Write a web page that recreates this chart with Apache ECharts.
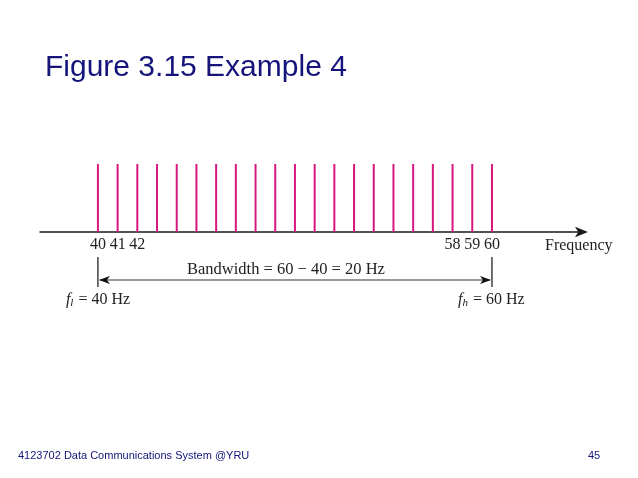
<!DOCTYPE html>
<html>
<head>
<meta charset="utf-8">
<script src="https://cdn.jsdelivr.net/npm/echarts@6/dist/echarts.min.js"></script>
<style>html,body{margin:0;padding:0;background:#fff;}#c{width:638px;height:478px;}</style>
</head>
<body>
<div id="c"></div>
<script>
// ---- data ----
const FREQS = [40,41,42,43,44,45,46,47,48,49,50,51,52,53,54,55,56,57,58,59,60];
const TICK_LABELS = [40,41,42,58,59,60];
const F_LOW = 40;
const F_HIGH = 60;
const BW_LABEL = 'Bandwidth = 60 \u2212 40 = 20 Hz';
const AXIS_NAME = 'Frequency';
const TITLE = 'Figure 3.15 Example 4';
const FOOTER_LEFT = '4123702 Data Communications System @YRU';
const FOOTER_RIGHT = '45';

// ---- layout ----
const X_MIN = 37.06, X_MAX = 64.57;
const SERIF = '"Liberation Serif", "DejaVu Serif", serif';
const NAVY = '#14147a';
const MAGENTA = '#d6177f';

const chart = echarts.init(document.getElementById('c'), null, {renderer:'canvas'});
chart.setOption({
  animation:false,
  backgroundColor:'#fff',
  grid:{left:40, width:542, top:164, height:68},
  xAxis:{
    type:'value', min:X_MIN, max:X_MAX,
    axisLine:{show:true, symbol:['none','arrow'], symbolSize:[8,13], symbolOffset:[0,6],
      lineStyle:{color:'#1a1a1a', width:1.5}},
    axisTick:{show:false},
    splitLine:{show:false},
    axisLabel:{show:true, customValues:TICK_LABELS, margin:5,
      fontFamily:SERIF, fontSize:16, color:'#222'},
    name:AXIS_NAME, nameLocation:'end', nameGap:-37,
    nameTextStyle:{fontFamily:SERIF, fontSize:16, color:'#222', padding:[6,0,0,0], align:'left', verticalAlign:'top'}
  },
  yAxis:{type:'value', min:0, max:1, show:false},
  graphic:[
    {type:'text', left:45, top:53, style:{text:TITLE, font:'30px "Liberation Sans", Arial, sans-serif', fill:NAVY}},
    {type:'text', left:18, top:450, style:{text:FOOTER_LEFT, font:'11px "Liberation Sans", Arial, sans-serif', fill:NAVY}},
    {type:'text', left:588, top:450, style:{text:FOOTER_RIGHT, font:'11px "Liberation Sans", Arial, sans-serif', fill:NAVY}}
  ],
  series:[
    {
      type:'custom', clip:false,
      data:FREQS.map(f=>[f]),
      renderItem:function(params, api){
        const p0 = api.coord([api.value(0), 0]);
        const p1 = api.coord([api.value(0), 1]);
        return {type:'line', shape:{x1:p0[0], y1:p0[1], x2:p1[0], y2:p1[1]},
          style:{stroke:MAGENTA, lineWidth:2}};
      }
    },
    {
      type:'custom', clip:false,
      data:[[F_LOW, F_HIGH]],
      renderItem:function(params, api){
        const a = api.coord([api.value(0), 0]);
        const b = api.coord([api.value(1), 0]);
        const y0 = a[1];
        const yl = y0 + 48;
        const ax = a[0], bx = b[0];
        const rich = {
          i:{fontFamily:SERIF, fontStyle:'italic', fontSize:16, fill:'#222'},
          s:{fontFamily:SERIF, fontStyle:'italic', fontSize:11, fill:'#222', verticalAlign:'bottom', padding:[6,1,0,0]},
          n:{fontFamily:SERIF, fontSize:16, fill:'#222'}
        };
        return {type:'group', children:[
          {type:'line', shape:{x1:ax, y1:y0+25, x2:ax, y2:y0+55}, style:{stroke:'#222', lineWidth:1.3}},
          {type:'line', shape:{x1:bx, y1:y0+25, x2:bx, y2:y0+55}, style:{stroke:'#222', lineWidth:1.3}},
          {type:'line', shape:{x1:ax+2, y1:yl, x2:bx-2, y2:yl}, style:{stroke:'#333', lineWidth:1.2}},
          {type:'polygon', shape:{points:[[ax+1,yl],[ax+12,yl-4],[ax+9,yl],[ax+12,yl+4]]}, style:{fill:'#111'}},
          {type:'polygon', shape:{points:[[bx-1,yl],[bx-12,yl-4],[bx-9,yl],[bx-12,yl+4]]}, style:{fill:'#111'}},
          {type:'text', x:(ax+bx)/2 - 9, y:yl-10, style:{text:BW_LABEL, align:'center', verticalAlign:'middle',
            font:'16.5px ' + SERIF, fill:'#222'}},
          {type:'text', x:ax-32, y:yl+20, style:{text:'{i|f}{s|l}{n| = ' + api.value(0) + ' Hz}', rich:rich,
            align:'left', verticalAlign:'middle'}},
          {type:'text', x:bx-34, y:yl+20, style:{text:'{i|f}{s|h}{n| = ' + api.value(1) + ' Hz}', rich:rich,
            align:'left', verticalAlign:'middle'}}
        ]};
      }
    }
  ]
});
</script>
</body>
</html>
